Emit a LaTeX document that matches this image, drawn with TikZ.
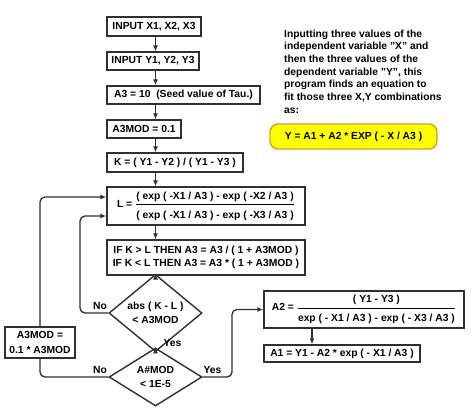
\documentclass[tikz,border=0pt]{standalone}
\usepackage{fontspec}
\setmainfont{Liberation Sans}
\usetikzlibrary{arrows.meta,shapes.geometric,calc}
\definecolor{lc}{HTML}{303030}
\definecolor{ybox}{HTML}{FFFF00}
\definecolor{ybord}{HTML}{E09A20}
\begin{document}
\begin{tikzpicture}[x=1pt,y=-1pt,
  font=\fontsize{10.3}{12.7}\selectfont\bfseries,
  box/.style={draw=lc, line width=1.4pt, inner sep=0pt, align=center},
  dia/.style={diamond, draw=lc, line width=1.4pt, inner sep=0pt,
    minimum width=93pt, minimum height=48pt, align=center,
    font=\fontsize{10.3}{13.5}\selectfont\bfseries},
  arr/.style={draw=lc, line width=1.3pt, -{Latex[length=6pt,width=5pt]}},
  conn/.style={draw=lc, line width=1.3pt},
  lbl/.style={inner sep=0pt}]
\useasboundingbox (0,0) rectangle (474,413);
\coordinate (ax) at (155.5,0);
\coordinate (ix) at (80,0);
\coordinate (jx) at (232,0);
\coordinate (bx) at (312,0);

\node[box, minimum width=94pt, minimum height=19pt] (in1) at (154,26.5) {INPUT X1, X2, X3};
\node[box, minimum width=92pt, minimum height=18pt] (in2) at (153,61) {INPUT Y1, Y2, Y3};
\node[box, minimum width=153pt, minimum height=18pt] (a3) at (183.5,95) {A3 = 10\ \ (Seed value of Tau.)};
\node[box, minimum width=74pt, minimum height=18pt] (a3m) at (144,129) {A3MOD = 0.1};
\node[box, minimum width=136pt, minimum height=19pt] (k) at (175,162.5) {K = ( Y1 - Y2 ) / ( Y1 - Y3 )};
\node[box, minimum width=198pt, minimum height=38pt] (L) at (206,206)
  {L = $\displaystyle\frac{\hbox{\rule[-4pt]{0pt}{4pt}( exp ( -X1 / A3 ) - exp ( -X2 / A3 )}}{\hbox{\rule{0pt}{12pt}( exp ( -X1 / A3 ) - exp ( -X3 / A3 )}}$};
\node[box, minimum width=198pt, minimum height=35pt, font=\fontsize{10.3}{13}\selectfont\bfseries] (if) at (206,257.5)
  {IF K > L THEN A3 = A3 / ( 1 + A3MOD )\\IF K < L THEN A3 = A3 * ( 1 + A3MOD )};
\node[dia] (d1) at (155.5,313) {\raisebox{-2pt}{abs ( K - L )}\\\raisebox{-2pt}{< A3MOD}};
\node[dia] (d2) at (155.5,377) {A\#MOD\\< 1E-5};
\node[box, minimum width=70pt, minimum height=31pt, font=\fontsize{10.3}{14.5}\selectfont\bfseries] (m2) at (40,342.5) {A3MOD =\\0.1 * A3MOD};
\node[box, minimum width=200pt, minimum height=37pt] (A2) at (364,309.5)
  {A2 = $\displaystyle\frac{\hbox{\rule[-4pt]{0pt}{4pt}( Y1 - Y3 )}}{\hbox{\rule{0pt}{12pt}exp ( - X1 / A3 ) - exp ( - X3 / A3 )}}$};
\node[box, minimum width=156pt, minimum height=17pt] (A1) at (342,353.5) {A1 = Y1 - A2 * exp ( - X1 / A3 )};

\node[anchor=north west, align=left, inner sep=0pt] (desc) at (284,29.5)
  {Inputting three values of the\\independent variable "X" and\\then the three values of the\\dependent variable "Y", this\\program finds an equation to\\fit those three X,Y combinations\\as:};
\node[draw=ybord, fill=ybox, line width=1.4pt, rounded corners=8pt,
  minimum width=167pt, minimum height=25pt, inner sep=0pt] (eq) at (353.5,136.5)
  {Y = A1 + A2 * EXP ( - X / A3 )};

\draw[arr] (in1.south -| ax) -- (in2.north -| ax);
\draw[arr] (in2.south -| ax) -- (a3.north -| ax);
\draw[arr] (a3.south -| ax) -- (a3m.north -| ax);
\draw[arr] (a3m.south -| ax) -- (k.north -| ax);
\draw[arr] (k.south -| ax) -- (L.north -| ax);
\draw[arr] (L.south -| ax) -- (if.north -| ax);
\draw[arr] (if.south -| ax) -- (d1.north);
\draw[arr] (d1.south) -- (d2.north);

\coordinate (La) at ([yshift=9pt]L.west);
\coordinate (Lb) at ([yshift=-10pt]L.west);
\draw[arr, rounded corners=5pt] (m2.north) -- (m2.north |- La) -- (La);
\draw[arr, rounded corners=5pt] (d1.west) -- (d1.west -| ix) -- (ix |- Lb) -- (Lb);
\draw[conn, rounded corners=5pt] (d2.west) -- (d2.west -| m2) -- (m2.south);
\draw[arr, rounded corners=5pt] (d2.east) -- (d2.east -| jx) -- (jx |- A2.west) -- (A2.west);
\draw[arr] (A2.south -| bx) -- (A1.north -| bx);

\node[lbl] (no1) at (100,306) {No};
\node[lbl] (no2) at (100,370) {No};
\node[lbl] (yes1) at (172.5,343) {Yes};
\node[lbl] (yes2) at (212.5,370) {Yes};
\end{tikzpicture}
\end{document}
